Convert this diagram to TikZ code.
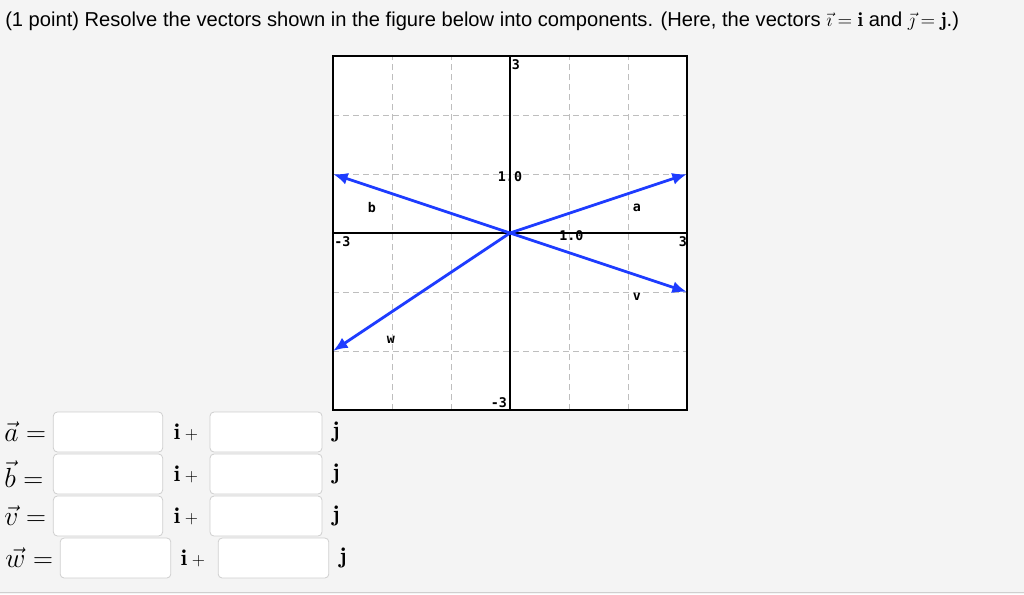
\documentclass[tikz,border=0pt]{standalone}
\usepackage{fontspec}
\setsansfont{Liberation Sans}
\newfontfamily\plotfont{DejaVu Sans Mono}
\usetikzlibrary{arrows.meta}
\definecolor{pagebg}{HTML}{F4F4F4}
\definecolor{vecblue}{HTML}{1E3CFF}
\definecolor{gridgray}{HTML}{BEBEBE}
\definecolor{boxgray}{HTML}{CFCFCF}
\tikzset{
  vec/.style={vecblue, line width=2.1pt, -{Latex[length=11pt,width=9pt]}},
  gridline/.style={gridgray, line width=0.7pt, dash pattern=on 4.5pt off 3pt},
  ticklab/.style={font=\plotfont\bfseries\fontsize{10}{11}\selectfont, inner sep=0pt},
  ansbox/.style={draw=boxgray, fill=white, rounded corners=3pt, line width=0.6pt,
    minimum width=82pt, minimum height=30pt, inner sep=0pt},
  rowlab/.style={font=\fontsize{21}{23}\selectfont, inner sep=0pt},
  unitlab/.style={font=\fontsize{17}{19}\selectfont, inner sep=0pt},
}
\newcommand{\unitplus}{\hspace{3.5pt}{\fontsize{13}{14}\selectfont+}}
\begin{document}
\begin{tikzpicture}[x=0.75pt, y=-0.75pt]
    \useasboundingbox (0,0) rectangle (1024,594);
    \fill[pagebg] (0,0) rectangle (1024,594);
    \draw[boxgray, line width=0.6pt] (0,592) -- (1024,592);
    % Question
    \node[anchor=west, inner sep=0pt, font=\sffamily\fontsize{15.1}{17}\selectfont] (question) at (5,21)
        {(1 point) Resolve the vectors shown in the figure below into components. (Here, the vectors $\vec{\imath}=\mathbf{i}$ and $\vec{\jmath}=\mathbf{j}$.)};
    % Plot
    \begin{scope}[shift={(510,233)}, x=44.25pt, y=44.25pt]
        \fill[white] (-3,-3) rectangle (3,3);
        \foreach \k in {-2,-1,1,2} {
            \draw[gridline] (\k,-3) -- (\k,3);
            \draw[gridline] (-3,\k) -- (3,\k);
        }
        \draw[line width=0.8pt] (-3,0) -- (3,0);
        \draw[line width=0.8pt] (0,-3) -- (0,3);
        \draw[line width=1pt] (-3,-3) rectangle (3,3);
        % Vectors
        \coordinate (O) at (0,0);
        \coordinate (A) at (3,1);
        \coordinate (B) at (-3,1);
        \coordinate (V) at (3,-1);
        \coordinate (W) at (-3,-2);
        \draw[vec] (O) -- (A);
        \draw[vec] (O) -- (B);
        \draw[vec] (O) -- (V);
        \draw[vec] (O) -- (W);
        % Labels
        \node[ticklab] (ytop) at (0.1,2.85) {3};
        \node[ticklab] (yone) at (0,0.95) {1.0};
        \node[ticklab] (xone) at (1.04,-0.05) {1.0};
        \node[ticklab] (xleft) at (-2.84,-0.15) {-3};
        \node[ticklab] (xright) at (2.93,-0.15) {3};
        \node[ticklab] (ybot) at (-0.19,-2.88) {-3};
        \node[ticklab] (la) at (2.15,0.42) {a};
        \node[ticklab] (lb) at (-2.34,0.43) {b};
        \node[ticklab] (lv) at (2.15,-1.08) {v};
        \node[ticklab] (lw) at (-2.02,-1.81) {w};
    \end{scope}
    % Answer rows
    \foreach \n/\y in {a/432, b/474, v/516} {
        \node[rowlab, anchor=west] (lab\n) at (4,\y) {$\vec{\n}=$};
        \node[ansbox] (x\n) at (108,\y) {};
        \node[unitlab] (i\n) at (186,\y) {$\mathbf{i}$\unitplus};
        \node[ansbox, minimum width=84pt] (y\n) at (266,\y) {};
        \node[unitlab] (j\n) at (336,\y) {$\mathbf{j}$};
    }
    \node[rowlab, anchor=west] (labw) at (5,558) {$\vec{w}=$};
    \node[ansbox, minimum width=83pt] (xw) at (115.5,558) {};
    \node[unitlab] (iw) at (193,558) {$\mathbf{i}$\unitplus};
    \node[ansbox, minimum width=83pt] (yw) at (273.5,558) {};
    \node[unitlab] (jw) at (343,558) {$\mathbf{j}$};
\end{tikzpicture}
\end{document}
